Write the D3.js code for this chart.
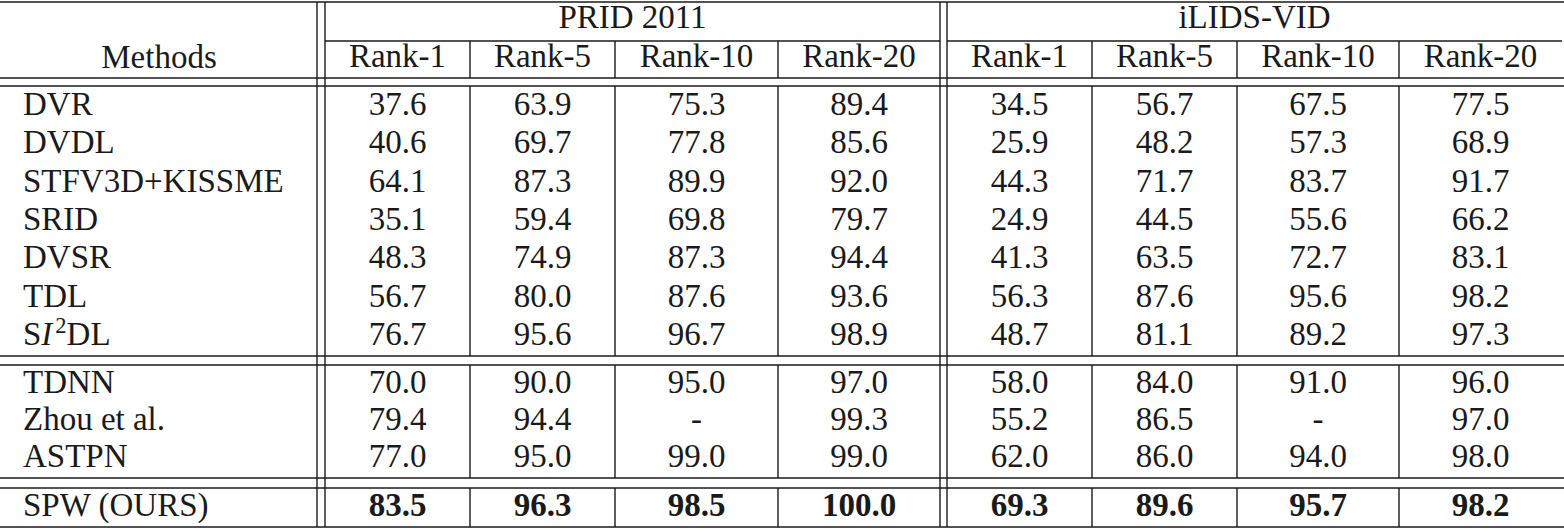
<!DOCTYPE html>
<html>
<head>
<meta charset="utf-8">
<script src="https://cdn.jsdelivr.net/npm/d3@7"></script>
<style>
  body { margin: 0; background: #fff; }
  svg text { font-family: "Liberation Serif", "Times New Roman", Times, serif; fill: #1a1a1a; }
</style>
</head>
<body>
<div id="container"></div>
<script>
const width = 1564;
const height = 531;

// data
const datasets = ["PRID 2011", "iLIDS-VID"];
const ranks = ["Rank-1", "Rank-5", "Rank-10", "Rank-20"];
const methodsA = ["DVR", "DVDL", "STFV3D+KISSME", "SRID", "DVSR", "TDL", "SI2DL"];
const valuesA = [
    ["37.6", "63.9", "75.3", "89.4", "34.5", "56.7", "67.5", "77.5"],
    ["40.6", "69.7", "77.8", "85.6", "25.9", "48.2", "57.3", "68.9"],
    ["64.1", "87.3", "89.9", "92.0", "44.3", "71.7", "83.7", "91.7"],
    ["35.1", "59.4", "69.8", "79.7", "24.9", "44.5", "55.6", "66.2"],
    ["48.3", "74.9", "87.3", "94.4", "41.3", "63.5", "72.7", "83.1"],
    ["56.7", "80.0", "87.6", "93.6", "56.3", "87.6", "95.6", "98.2"],
    ["76.7", "95.6", "96.7", "98.9", "48.7", "81.1", "89.2", "97.3"]
];
const methodsB = ["TDNN", "Zhou et al.", "ASTPN"];
const valuesB = [
    ["70.0", "90.0", "95.0", "97.0", "58.0", "84.0", "91.0", "96.0"],
    ["79.4", "94.4", "-", "99.3", "55.2", "86.5", "-", "97.0"],
    ["77.0", "95.0", "99.0", "99.0", "62.0", "86.0", "94.0", "98.0"]
];
const methodOurs = "SPW (OURS)";
const valuesOurs = ["83.5", "96.3", "98.5", "100.0", "69.3", "89.6", "95.7", "98.2"];

// layout
const colEdges = [325, 470, 615, 778, 940, 947, 1092, 1237, 1399, 1562];
const groupSpans = [[325, 940], [947, 1562]];
const fs = 33;
const stroke = "#1a1a1a";
const font = "'Liberation Serif', 'Times New Roman', Times, serif";

const svg = d3.select("#container").append("svg")
    .attr("width", width)
    .attr("height", height)
    .attr("viewBox", `0 0 ${width} ${height}`);

// column centers
let colCenters = [];
[[0, 1, 2, 3, 4], [5, 6, 7, 8, 9]].forEach(g => {
    for (let i = 0; i < 4; i++) colCenters.push((colEdges[g[i]] + colEdges[g[i + 1]]) / 2);
});
const x = d3.scaleOrdinal().domain(d3.range(8)).range(colCenters);

const yA = d3.scaleLinear().domain([0, methodsA.length - 1]).range([115, 345]);
const yB = d3.scaleLinear().domain([0, methodsB.length - 1]).range([393, 467]);
const yOurs = 516;

// lines
const lines = svg.append("g").attr("stroke", stroke).attr("stroke-width", 1.4);
const hLine = (y, x1, x2) => lines.append("line").attr("x1", x1).attr("x2", x2).attr("y1", y).attr("y2", y);
const vLine = (xx, y1, y2) => lines.append("line").attr("x1", xx).attr("x2", xx).attr("y1", y1).attr("y2", y2);

hLine(2, 0, width);
groupSpans.forEach(s => hLine(41, s[0], s[1]));
[78, 86, 356, 365, 478, 488, 527].forEach(y => hLine(y, 0, width));

// double verticals
[317, 325, 940, 947].forEach(xx => vLine(xx, 2, 527));
// single verticals within each section
const sections = [[41, 78], [86, 356], [365, 478], [488, 527]];
[470, 615, 778, 1092, 1237, 1399].forEach(xx => {
    sections.forEach(s => vLine(xx, s[0], s[1]));
});

// header
const txt = svg.append("g").attr("font-size", fs).attr("font-family", font);
datasets.forEach((d, i) => {
    txt.append("text")
        .attr("x", (groupSpans[i][0] + groupSpans[i][1]) / 2)
        .attr("y", 28)
        .attr("text-anchor", "middle")
        .text(d);
});
txt.append("text").attr("x", 159).attr("y", 68).attr("text-anchor", "middle").text("Methods");
d3.range(8).forEach(i => {
    txt.append("text")
        .attr("x", x(i))
        .attr("y", 67)
        .attr("text-anchor", "middle")
        .text(ranks[i % 4]);
});

function methodLabel(name, y) {
    let t = txt.append("text").attr("x", 23).attr("y", y);
    if (name == "SI2DL") {
        t.append("tspan").text("S");
        t.append("tspan").attr("font-style", "italic").text("I");
        t.append("tspan").attr("font-size", fs * 0.68).attr("dx", 3).attr("dy", -12).text("2");
        t.append("tspan").attr("dy", 12).text("DL");
    } else {
        t.text(name);
    }
}

function row(name, vals, y, bold) {
    methodLabel(name, y);
    txt.selectAll(null)
        .data(vals)
        .join("text")
        .attr("x", (d, i) => x(i))
        .attr("y", y)
        .attr("text-anchor", "middle")
        .attr("font-weight", bold ? "bold" : null)
        .text(d => d);
}

methodsA.forEach((m, i) => row(m, valuesA[i], yA(i), false));
methodsB.forEach((m, i) => row(m, valuesB[i], yB(i), false));
row(methodOurs, valuesOurs, yOurs, true);
</script>
</body>
</html>
